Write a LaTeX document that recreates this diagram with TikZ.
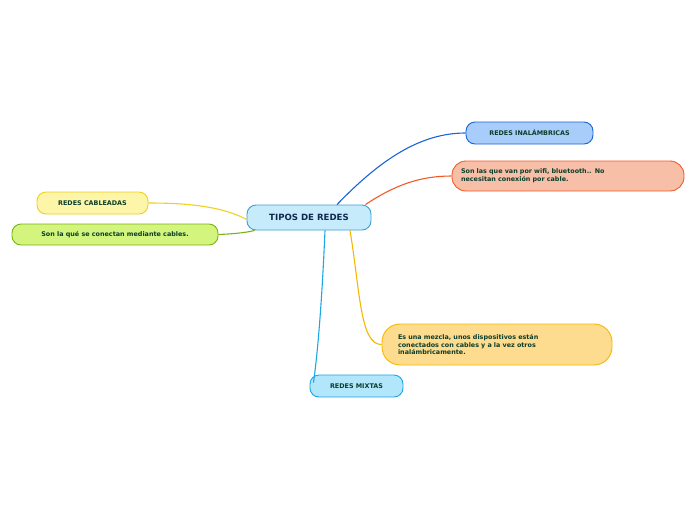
\documentclass[tikz,border=0pt]{standalone}
\usepackage{fontspec}
\setmainfont{DejaVu Sans}
\definecolor{tx}{HTML}{0B3D2A}
\definecolor{cF}{HTML}{C6EBFB}\definecolor{cD}{HTML}{3C9FD6}
\definecolor{aF}{HTML}{A9CDFB}\definecolor{aD}{HTML}{1A64D6}
\definecolor{bF}{HTML}{F8BFA8}\definecolor{bD}{HTML}{F05A28}
\definecolor{dF}{HTML}{FDF5A8}\definecolor{dD}{HTML}{F0D020}
\definecolor{eF}{HTML}{D3F57E}\definecolor{eD}{HTML}{7AB317}
\definecolor{fF}{HTML}{FEDC8F}\definecolor{fD}{HTML}{F5B800}
\definecolor{gF}{HTML}{B2E6FB}\definecolor{gD}{HTML}{1BA7E6}
\definecolor{ct}{HTML}{102850}
\begin{document}
\begin{tikzpicture}[x=1pt,y=-1pt,
 box/.style={draw,line width=0.9pt,rounded corners=9pt,font=\bfseries\fontsize{6.4}{7.6}\selectfont,text=tx,inner sep=0pt},
 lk/.style={line width=1.1pt}]
\useasboundingbox (0,0) rectangle (696,520);
\node[box,fill=cF,draw=cD,minimum width=124pt,minimum height=25pt,font=\bfseries\fontsize{8.6}{10}\selectfont,text=ct] (c) at (309,217.5) {TIPOS DE REDES};
\node[box,fill=aF,draw=aD,minimum width=127pt,minimum height=22pt] (a) at (529.5,133) {REDES INALÁMBRICAS};
\node[box,fill=bF,draw=bD,minimum width=232pt,minimum height=30pt,rounded corners=14pt,align=left,text width=214pt] (b) at (568,176) {Son las que van por wifi, bluetooth.. No\\necesitan conexión por cable.};
\node[box,fill=dF,draw=dD,minimum width=111pt,minimum height=22pt] (d) at (92.5,203) {REDES CABLEADAS};
\node[box,fill=eF,draw=eD,minimum width=206pt,minimum height=21pt] (e) at (115,234.5) {Son la qué se conectan mediante cables.};
\node[box,fill=fF,draw=fD,minimum width=230pt,minimum height=41pt,rounded corners=18pt,align=left,text width=198pt] (f) at (497,344.5) {Es una mezcla, unos dispositivos están\\conectados con cables y a la vez otros\\inalámbricamente.};
\node[box,fill=gF,draw=gD,minimum width=93pt,minimum height=22pt] (g) at (356.5,386) {REDES MIXTAS};
\draw[lk,aD] ([xshift=28pt]c.north) .. controls (380,160) and (420,133) .. (a.west);
\draw[lk,bD] ([xshift=-6pt]c.north east) .. controls (395,185) and (420,176) .. (b.west);
\draw[lk,dD] ([yshift=-2pt]c.west) .. controls (220,205) and (180,203) .. (d.east);
\draw[lk,eD] ([xshift=8pt]c.south west) .. controls (245,233) and (230,234) .. (e.east);
\draw[lk,fD] ([xshift=41pt]c.south) .. controls (360,290) and (360,345) .. (f.west);
\draw[lk,gD] ([xshift=16pt]c.south) .. controls (322,300) and (318,350) .. ([xshift=-43pt,yshift=-8pt]g.north);
\end{tikzpicture}
\end{document}
